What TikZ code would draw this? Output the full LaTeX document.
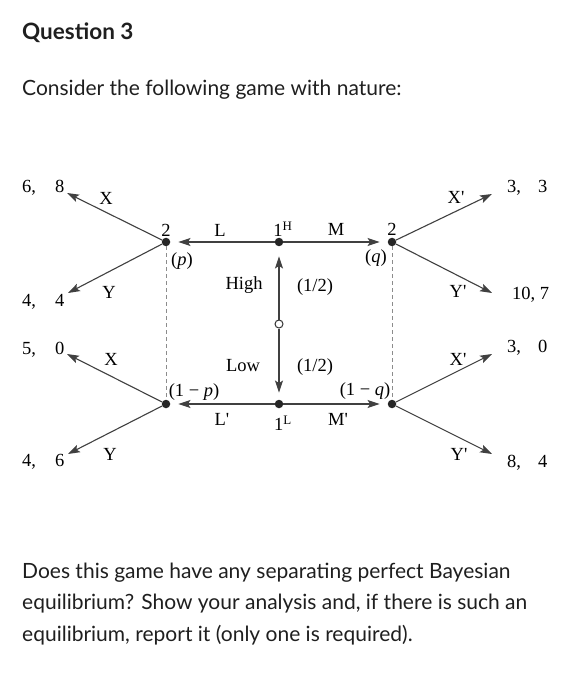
\documentclass[tikz,border=0pt]{standalone}
\usepackage{fontspec}
\setmainfont{Liberation Serif}
\newfontfamily\latofont{Lato}
\usetikzlibrary{arrows.meta}

\begin{document}
\begin{tikzpicture}[x=1pt, y=-1pt, >={Stealth[length=12pt,width=8pt,inset=2.5pt]}, font=\fontsize{18.5}{21}\selectfont]
        \tikzset{dec/.style={circle, fill=black!85, inner sep=0pt, minimum size=8.5pt},
                 chance/.style={circle, draw=black!80, fill=white, line width=1pt, inner sep=0pt, minimum size=8pt},
                 move/.style={->, draw=black!75, line width=1.1pt},
                 info/.style={draw=black!45, dash pattern=on 4pt off 3pt, line width=1pt},
                 pay/.style={anchor=west, inner sep=0pt},
                 txt/.style={font=\latofont\fontsize{21}{31.5}\selectfont, text=black!88, anchor=base west, inner sep=0pt, align=left}}

        \useasboundingbox[fill=white] (0,0) rectangle (571,700);

        \node[txt, font=\latofont\bfseries\fontsize{22.5}{26}\selectfont] (title) at (22,40) {Question 3};
        \node[txt] (intro) at (22,96) {Consider the following game with nature:};

        \node[chance] (nat) at (279,324) {};
        \node[dec] (oneH) at (279,242) {};
        \node[dec] (oneL) at (279,404) {};
        \node[dec] (twoHL) at (166,242) {};
        \node[dec] (twoLL) at (166,404) {};
        \node[dec] (twoHM) at (392,242) {};
        \node[dec] (twoLM) at (392,404) {};

        \draw[move, shorten >=10pt] (nat) -- (oneH);
        \draw[move, shorten >=7pt] (nat) -- (oneL);
        \draw[move, shorten >=8pt] (oneH) -- (twoHL);
        \draw[move, shorten >=8pt] (oneH) -- (twoHM);
        \draw[move, shorten >=8pt] (oneL) -- (twoLL);
        \draw[move, shorten >=8pt] (oneL) -- (twoLM);
        \draw[info] (twoHL) -- (twoLL);
        \draw[info] (twoHM) -- (twoLM);

        \node at (244,285) {High};
        \node at (315,287) {(1/2)};
        \node at (243,366) {Low};
        \node at (315,367) {(1/2)};
        \node (lblH) at (283,229) {1\textsuperscript{H}};
        \node (lblL) at (283,423) {1\textsuperscript{L}};
        \node at (166,230) {2};
        \node at (392,229) {2};
        \node at (220,230) {L};
        \node at (336,229) {M};
        \node at (222,419) {L\textquotesingle};
        \node at (338,419) {M\textquotesingle};
        \node at (182,261) {(\textit{p})};
        \node at (376,258) {(\textit{q})};
        \node at (194,392) {(1 − \textit{p})};
        \node at (365,391) {(1 − \textit{q})};

        % terminal moves
        \coordinate (tXHL) at (67,193);
        \coordinate (tYHL) at (68,293);
        \coordinate (tXLL) at (67,354);
        \coordinate (tYLL) at (68,454);
        \coordinate (tXHM) at (492,194);
        \coordinate (tYHM) at (492,293);
        \coordinate (tXLM) at (492,354);
        \coordinate (tYLM) at (492,454);
        \draw[move] (twoHL) -- (tXHL);
        \draw[move] (twoHL) -- (tYHL);
        \draw[move] (twoLL) -- (tXLL);
        \draw[move] (twoLL) -- (tYLL);
        \draw[move] (twoHM) -- (tXHM);
        \draw[move] (twoHM) -- (tYHM);
        \draw[move] (twoLM) -- (tXLM);
        \draw[move] (twoLM) -- (tYLM);

        \node at (106,198) {X};
        \node at (109,292) {Y};
        \node at (111,359) {X};
        \node at (110,454) {Y};
        \node at (456,197) {X\textquotesingle};
        \node at (458,291) {Y\textquotesingle};
        \node at (458,359) {X\textquotesingle};
        \node at (459,454) {Y\textquotesingle};

        \node[pay] (payXHL) at (22,188) {6,\hspace{19pt}8};
        \node[pay] (payYHL) at (22,302) {4,\hspace{19pt}4};
        \node[pay] (payXLL) at (22,350) {5,\hspace{19pt}0};
        \node[pay] (payYLL) at (22,462) {4,\hspace{19pt}6};
        \node[pay] (payXHM) at (507,188) {3,\hspace{17pt}3};
        \node[pay] (payYHM) at (512,295) {10, 7};
        \node[pay] (payXLM) at (507,348) {3,\hspace{17pt}0};
        \node[pay] (payYLM) at (507,463) {8,\hspace{17pt}4};

        \node[txt] (task) at (22,641) {Does this game have any separating perfect Bayesian\\equilibrium? Show your analysis and, if there is such an\\equilibrium, report it (only one is required).};
    \end{tikzpicture}
\end{document}
